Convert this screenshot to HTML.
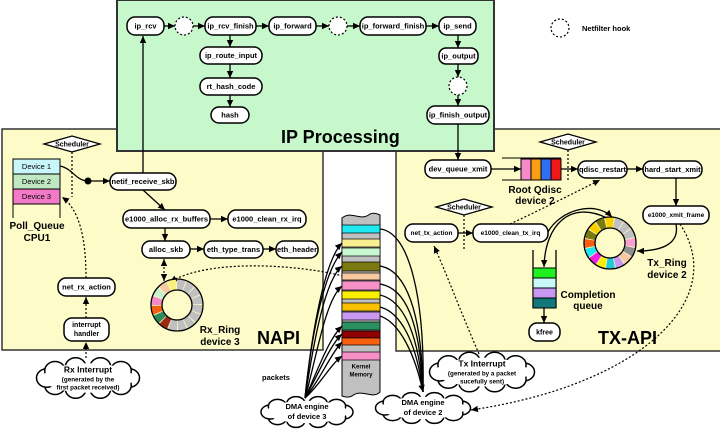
<!DOCTYPE html>
<html><head><meta charset="utf-8"><style>
html,body{margin:0;padding:0;background:#fff;}
svg{display:block;font-family:"Liberation Sans",sans-serif;}
.n{fill:#fff;stroke:#000;stroke-width:1.5;}
.t{font-size:7.5px;font-weight:bold;text-anchor:middle;dominant-baseline:middle;}
.l{stroke:#000;stroke-width:1.3;fill:none;}
.d{stroke:#000;stroke-width:1.2;fill:none;stroke-dasharray:2,2;}
.big{font-size:18px;font-weight:bold;}
.lab{font-size:10px;font-weight:bold;text-anchor:middle;}
.cb circle{fill:#fff;stroke:#000;stroke-width:1.5;vector-effect:non-scaling-stroke;}
</style></head><body>
<svg width="720" height="430" viewBox="0 0 720 430">
<defs>
<marker id="a" markerWidth="8" markerHeight="8" refX="7" refY="4" orient="auto" markerUnits="userSpaceOnUse"><path d="M0,0.8 L7,4 L0,7.2z" fill="#000"/></marker>
<marker id="s" markerWidth="8" markerHeight="8" refX="1" refY="4" orient="auto" markerUnits="userSpaceOnUse"><path d="M8,0.8 L1,4 L8,7.2z" fill="#000"/></marker>
<g id="cloud">
<g class="cb">
<circle cx="40" cy="0" r="10"/><circle cx="32" cy="8" r="10"/><circle cx="12" cy="12" r="10"/><circle cx="-12" cy="12" r="10"/><circle cx="-32" cy="8" r="10"/><circle cx="-40" cy="0" r="10"/><circle cx="-32" cy="-8" r="10"/><circle cx="-12" cy="-12" r="10"/><circle cx="12" cy="-12" r="10"/><circle cx="32" cy="-8" r="10"/>
</g>
<ellipse cx="0" cy="0" rx="44" ry="16" fill="#fff"/>
</g>
</defs>

<!-- panels -->
<rect x="2" y="129" width="321" height="221" fill="#fdfcc8" stroke="#333" stroke-width="1.5"/>
<rect x="396" y="129" width="326" height="222" fill="#fdfcc8" stroke="#333" stroke-width="1.5"/>
<rect x="117" y="0" width="377" height="151" fill="#c6f8cc" stroke="#333" stroke-width="2"/>
<text x="281" y="143" class="big">IP Processing</text>
<text x="257" y="344" class="big">NAPI</text>
<text x="598" y="344" class="big">TX-API</text>

<!-- legend -->
<circle cx="560" cy="28" r="9" fill="#fff" stroke="#000" stroke-width="1.2" stroke-dasharray="2,2"/>
<text x="582" y="31" style="font-size:7.5px;font-weight:bold">Netfilter hook</text>

<!-- IP processing nodes -->
<rect class="n" x="127" y="17" width="37" height="18" rx="8"/><text class="t" x="145.5" y="26.5">ip_rcv</text>
<circle cx="184" cy="26" r="9" fill="#fff" stroke="#000" stroke-width="1.2" stroke-dasharray="2,2"/>
<rect class="n" x="205" y="17" width="51" height="18" rx="8"/><text class="t" x="230.5" y="26.5">ip_rcv_finish</text>
<rect class="n" x="269" y="17" width="47" height="18" rx="8"/><text class="t" x="292.5" y="26.5">ip_forward</text>
<circle cx="338" cy="26" r="9" fill="#fff" stroke="#000" stroke-width="1.2" stroke-dasharray="2,2"/>
<rect class="n" x="360" y="17" width="66" height="18" rx="8"/><text class="t" x="393" y="26.5">ip_forward_finish</text>
<rect class="n" x="439" y="17" width="37" height="18" rx="8"/><text class="t" x="457.5" y="26.5">ip_send</text>
<rect class="n" x="439" y="48" width="39" height="16" rx="7"/><text class="t" x="458.5" y="56.5">ip_output</text>
<circle cx="458" cy="86" r="9" fill="#fff" stroke="#000" stroke-width="1.2" stroke-dasharray="2,2"/>
<rect class="n" x="427" y="106" width="62" height="18" rx="8"/><text class="t" x="458" y="115.5">ip_finish_output</text>
<rect class="n" x="200" y="47" width="62" height="17" rx="8"/><text class="t" x="231" y="56">ip_route_input</text>
<rect class="n" x="200" y="78" width="62" height="17" rx="8"/><text class="t" x="231" y="87">rt_hash_code</text>
<rect class="n" x="211" y="107" width="38" height="16" rx="8"/><text class="t" x="230" y="115.5">hash</text>

<g class="l" marker-end="url(#a)">
<line x1="164" y1="26" x2="175" y2="26"/><line x1="193" y1="26" x2="205" y2="26"/>
<line x1="256" y1="26" x2="269" y2="26"/><line x1="316" y1="26" x2="329" y2="26"/>
<line x1="347" y1="26" x2="360" y2="26"/><line x1="426" y1="26" x2="439" y2="26"/>
<line x1="458" y1="35" x2="458" y2="48"/><line x1="458" y1="64" x2="458" y2="77"/>
<line x1="458" y1="95" x2="458" y2="106"/><line x1="458" y1="124" x2="458" y2="160"/>
<line x1="230" y1="35" x2="230" y2="47"/><line x1="230" y1="64" x2="230" y2="78"/>
<line x1="230" y1="95" x2="230" y2="107"/>
<line x1="143" y1="173" x2="143" y2="36"/>
</g>

<!-- NAPI side -->
<polygon points="44,144 72,136 100,144 72,152" fill="#fff" stroke="#000" stroke-width="1.3"/>
<text class="t" x="72" y="144.5" style="font-size:7px">Scheduler</text>
<line class="d" x1="72" y1="152" x2="72" y2="197"/>
<rect x="13" y="159" width="47" height="15" fill="#c8f6fb" stroke="#000"/>
<rect x="13" y="174" width="47" height="15" fill="#bfe8c3" stroke="#000"/>
<rect x="13" y="189" width="47" height="15" fill="#f27ac6" stroke="#000"/>
<line x1="13" y1="204" x2="13" y2="218" stroke="#000"/><line x1="60" y1="204" x2="60" y2="218" stroke="#000"/>
<text class="t" x="36.5" y="167" style="font-weight:normal;font-size:7.5px">Device 1</text>
<text class="t" x="36.5" y="182" style="font-weight:normal;font-size:7.5px">Device 2</text>
<text class="t" x="36.5" y="197" style="font-weight:normal;font-size:7.5px">Device 3</text>
<text class="lab" x="37" y="229">Poll_Queue</text>
<text class="lab" x="37" y="241">CPU1</text>
<path class="l" d="M60,166 C72,168 76,181 88,181"/>
<circle cx="88" cy="181" r="3.5" fill="#000"/>
<line class="l" x1="88" y1="181" x2="110" y2="181" marker-end="url(#a)"/>
<rect class="n" x="110" y="173" width="66" height="17" rx="8"/><text class="t" x="143" y="182">netif_receive_skb</text>
<line class="l" x1="143" y1="190" x2="165" y2="210" marker-end="url(#a)"/>
<rect class="n" x="123" y="210" width="87" height="18" rx="8"/><text class="t" x="166.5" y="219.5">e1000_alloc_rx_buffers</text>
<rect class="n" x="228" y="210" width="78" height="18" rx="8"/><text class="t" x="267" y="219.5">e1000_clean_rx_irq</text>
<line class="l" x1="210" y1="219" x2="228" y2="219" marker-end="url(#a)"/>
<line class="l" x1="165" y1="228" x2="165" y2="241" marker-end="url(#a)"/>
<rect class="n" x="142" y="241" width="48" height="17" rx="8"/><text class="t" x="166" y="250">alloc_skb</text>
<rect class="n" x="204" y="241" width="59" height="17" rx="8"/><text class="t" x="233.5" y="250">eth_type_trans</text>
<rect class="n" x="276" y="241" width="42" height="17" rx="8"/><text class="t" x="297" y="250">eth_header</text>
<line class="l" x1="190" y1="249" x2="204" y2="249" marker-end="url(#a)"/>
<line class="l" x1="263" y1="249" x2="276" y2="249" marker-end="url(#a)"/>
<line class="d" x1="164" y1="259" x2="164" y2="281" marker-start="url(#s)" marker-end="url(#a)"/>
<path class="d" d="M343,276 C300,265 210,258 170,282" marker-end="url(#a)"/>

<!-- Rx ring -->
<g transform="translate(177,305)">
<g fill="none" stroke-width="10" stroke-dasharray="7.3 121.5">
<circle r="20.5" stroke="#f8f07c" transform="rotate(-112.5)"/>
<circle r="20.5" stroke="#c0c0c0" transform="rotate(-90)"/>
<circle r="20.5" stroke="#c0c0c0" transform="rotate(-67.5)"/>
<circle r="20.5" stroke="#c0c0c0" transform="rotate(-45)"/>
<circle r="20.5" stroke="#c0c0c0" transform="rotate(-22.5)"/>
<circle r="20.5" stroke="#c0c0c0" transform="rotate(0)"/>
<circle r="20.5" stroke="#c0c0c0" transform="rotate(22.5)"/>
<circle r="20.5" stroke="#c0c0c0" transform="rotate(45)"/>
<circle r="20.5" stroke="#c0c0c0" transform="rotate(67.5)"/>
<circle r="20.5" stroke="#c0c0c0" transform="rotate(90)"/>
<circle r="20.5" stroke="#9a2a10" transform="rotate(112.5)"/>
<circle r="20.5" stroke="#2a8a5a" transform="rotate(135)"/>
<circle r="20.5" stroke="#f06010" transform="rotate(157.5)"/>
<circle r="20.5" stroke="#f48ac8" transform="rotate(180)"/>
<circle r="20.5" stroke="#c8f4cc" transform="rotate(202.5)"/>
<circle r="20.5" stroke="#f8c8a0" transform="rotate(225)"/>
</g>
<circle r="26" fill="none" stroke="#000" stroke-width="1.3"/><circle r="15" fill="#fdfcc8" stroke="#000" stroke-width="1.3"/>
</g>
<text class="lab" x="220" y="333">Rx_Ring</text>
<text class="lab" x="220" y="345">device 3</text>

<path class="d" d="M86,278 C86,240 80,210 62,197" marker-end="url(#a)"/>
<rect class="n" x="58" y="278" width="57" height="18" rx="8"/><text class="t" x="86.5" y="287.5">net_rx_action</text>
<line class="d" x1="86" y1="318" x2="86" y2="297" marker-end="url(#a)"/>
<rect class="n" x="64" y="318" width="45" height="23" rx="8"/>
<text class="t" x="86.5" y="325" style="font-size:7px">interrupt</text><text class="t" x="86.5" y="334" style="font-size:7px">handler</text>
<line class="d" x1="86" y1="358" x2="86" y2="342" marker-end="url(#a)"/>

<!-- kernel memory -->
<path d="M342,218 C352,210 360,222 370,214 C374,212 378,214 380,215 L380,392 C372,400 362,388 352,396 C348,398 345,397 342,396 Z" fill="#c0c0c0" stroke="#000" stroke-width="1"/>
<g stroke="#000" stroke-width="0.7">
<rect x="342" y="225" width="38" height="8" fill="#20e8f0"/>
<rect x="342" y="239" width="38" height="8" fill="#f8f090"/>
<rect x="342" y="248" width="38" height="8" fill="#c8f8d0"/>
<rect x="342" y="262" width="38" height="9" fill="#7a7a10"/>
<rect x="342" y="273" width="38" height="7" fill="#f8c8a0"/>
<rect x="342" y="281" width="38" height="9" fill="#f890c8"/>
<rect x="342" y="291" width="38" height="8" fill="#f8f000"/>
<rect x="342" y="303" width="38" height="8" fill="#f8c000"/>
<rect x="342" y="312" width="38" height="8" fill="#c898f0"/>
<rect x="342" y="322" width="38" height="8" fill="#2a9060"/>
<rect x="342" y="331" width="38" height="7" fill="#900000"/>
<rect x="342" y="338" width="38" height="7" fill="#f86010"/>
<rect x="342" y="352" width="38" height="8" fill="#f890c8"/>
</g>
<text class="t" x="361" y="367" style="font-size:6px">Kernel</text>
<text class="t" x="361" y="375" style="font-size:6px">Memory</text>

<!-- DMA3 fan -->
<g class="l" marker-end="url(#a)">
<path d="M305,398 C312,330 325,260 342,243"/>
<path d="M305,398 C312,330 325,270 342,252"/>
<path d="M305,398 C314,340 325,280 342,266"/>
<path d="M305,398 C316,360 325,300 342,286"/>
<path d="M305,398 C318,370 328,340 342,326"/>
<path d="M305,398 C318,375 330,345 342,334"/>
<path d="M305,398 C320,380 330,355 342,342"/>
<path d="M305,398 C320,385 330,365 342,356"/>
</g>
<text x="262" y="380" style="font-size:7.5px;font-weight:bold">packets</text>
<!-- DMA2 curves -->
<g class="l">
<path d="M380,229 C410,232 425,300 423,392"/>
<path d="M380,266 C405,270 422,310 423,392"/>
<path d="M380,284 C405,288 420,320 423,392"/>
<path d="M380,295 C402,300 418,330 423,392"/>
<path d="M380,307 C400,312 416,340 423,392"/>
<path d="M380,316 C398,322 414,350 423,392" marker-end="url(#a)"/>
</g>

<!-- clouds -->
<use href="#cloud" transform="translate(88,378) scale(1.03,0.92)"/>
<text class="t" x="88" y="370" style="font-size:8.5px">Rx Interrupt</text>
<text class="t" x="88" y="380" style="font-size:6.3px">(generated by the</text>
<text class="t" x="88" y="388" style="font-size:6.3px">first packet received)</text>
<use href="#cloud" transform="translate(307,412) scale(0.92,0.7)"/>
<text class="t" x="307" y="407" style="font-size:7.5px">DMA engine</text>
<text class="t" x="307" y="417" style="font-size:7.5px">of device 3</text>
<use href="#cloud" transform="translate(423,408) scale(0.95,0.7)"/>
<text class="t" x="423" y="403" style="font-size:7.5px">DMA engine</text>
<text class="t" x="423" y="413" style="font-size:7.5px">of device 2</text>
<use href="#cloud" transform="translate(482,372) scale(1.05,0.9)"/>
<text class="t" x="482" y="364" style="font-size:8.5px">Tx Interrupt</text>
<text class="t" x="482" y="374" style="font-size:6.3px">(generated by a packet</text>
<text class="t" x="482" y="382" style="font-size:6.3px">sucefully sent)</text>

<!-- TX side -->
<rect class="n" x="425" y="160" width="66" height="18" rx="8"/><text class="t" x="458" y="169.5">dev_queue_xmit</text>
<line x1="502" y1="158" x2="561" y2="158" stroke="#000"/><line x1="502" y1="180" x2="561" y2="180" stroke="#000"/>
<g stroke="#000" stroke-width="1">
<rect x="521" y="159" width="10" height="21" fill="#f48ac8"/>
<rect x="531" y="159" width="10" height="21" fill="#f8a010"/>
<rect x="541" y="159" width="10" height="21" fill="#3070f0"/>
<rect x="551" y="159" width="10" height="21" fill="#f01818"/>
</g>
<line class="l" x1="491" y1="169" x2="521" y2="169" marker-end="url(#a)"/>
<text class="lab" x="535" y="193">Root Qdisc</text>
<text class="lab" x="535" y="204">device 2</text>
<polygon points="540,142 568,134 596,142 568,150" fill="#fff" stroke="#000" stroke-width="1.3"/>
<text class="t" x="568" y="142.5" style="font-size:7px">Scheduler</text>
<line class="d" x1="568" y1="150" x2="568" y2="182"/>
<line class="l" x1="561" y1="169" x2="578" y2="169" marker-end="url(#a)"/>
<rect class="n" x="578" y="161" width="49" height="17" rx="8"/><text class="t" x="602.5" y="170">qdisc_restart</text>
<line class="l" x1="627" y1="169" x2="643" y2="169" marker-end="url(#a)"/>
<rect class="n" x="643" y="161" width="59" height="17" rx="8"/><text class="t" x="672.5" y="170">hard_start_xmit</text>
<line class="l" x1="676" y1="178" x2="676" y2="206" marker-end="url(#a)"/>
<rect class="n" x="643" y="206" width="66" height="18" rx="8"/><text class="t" x="676" y="215.5" style="font-size:6.5px">e1000_xmit_frame</text>

<polygon points="436,207 464,199 492,207 464,215" fill="#fff" stroke="#000" stroke-width="1.3"/>
<text class="t" x="464" y="207.5" style="font-size:7px">Scheduler</text>
<line class="d" x1="464" y1="215" x2="464" y2="250"/>
<rect class="n" x="405" y="224" width="53" height="18" rx="8"/><text class="t" x="431.5" y="233.5" style="font-size:6.5px">net_tx_action</text>
<line class="l" x1="458" y1="233" x2="473" y2="233" marker-end="url(#a)"/>
<rect class="n" x="473" y="224" width="75" height="18" rx="8"/><text class="t" x="510.5" y="233.5" style="font-size:6.5px">e1000_clean_tx_irq</text>
<path class="d" d="M510,224 C540,210 570,195 600,180" marker-end="url(#a)"/>
<path class="l" d="M548,232 C560,210 595,200 612,217" marker-end="url(#a)"/>
<path class="l" d="M607,218 C570,200 545,225 544,267" marker-end="url(#a)"/>
<path class="l" d="M676,224 C680,245 660,251 637,251" marker-end="url(#a)"/>
<path class="d" d="M680,224 C730,300 640,385 471,410" marker-end="url(#a)"/>
<path class="d" d="M479,354 C460,310 445,270 434,246" marker-end="url(#a)"/>

<!-- Tx ring -->
<g transform="translate(610,243)">
<g fill="none" stroke-width="10" stroke-dasharray="7.3 121.5">
<circle r="20.5" stroke="#f8d000" transform="rotate(-101.25)"/>
<circle r="20.5" stroke="#c0c0c0" transform="rotate(-78.75)"/>
<circle r="20.5" stroke="#c0c0c0" transform="rotate(-56.25)"/>
<circle r="20.5" stroke="#c0c0c0" transform="rotate(-33.75)"/>
<circle r="20.5" stroke="#f8a0d0" transform="rotate(-11.25)"/>
<circle r="20.5" stroke="#909090" transform="rotate(11.25)"/>
<circle r="20.5" stroke="#f8c8a0" transform="rotate(33.75)"/>
<circle r="20.5" stroke="#c898f0" transform="rotate(56.25)"/>
<circle r="20.5" stroke="#20c8d8" transform="rotate(78.75)"/>
<circle r="20.5" stroke="#f8f000" transform="rotate(101.25)"/>
<circle r="20.5" stroke="#f020e0" transform="rotate(123.75)"/>
<circle r="20.5" stroke="#20e8f0" transform="rotate(146.25)"/>
<circle r="20.5" stroke="#f86010" transform="rotate(168.75)"/>
<circle r="20.5" stroke="#7a7a10" transform="rotate(191.25)"/>
<circle r="20.5" stroke="#f8d000" transform="rotate(213.75)"/>
<circle r="20.5" stroke="#7a7a10" transform="rotate(236.25)"/>
</g>
<circle r="26" fill="none" stroke="#000" stroke-width="1.3"/><circle r="15" fill="#fdfcc8" stroke="#000" stroke-width="1.3"/>
</g>
<text class="lab" x="667" y="266">Tx_Ring</text>
<text class="lab" x="667" y="278">device 2</text>

<line x1="533" y1="250" x2="533" y2="308" stroke="#000" stroke-width="1.3"/>
<line x1="556" y1="250" x2="556" y2="308" stroke="#000" stroke-width="1.3"/>
<g stroke="#000" stroke-width="1">
<rect x="533" y="268" width="23" height="10" fill="#20f020"/>
<rect x="533" y="278" width="23" height="10" fill="#c8f8f8"/>
<rect x="533" y="288" width="23" height="10" fill="#c898f0"/>
<rect x="533" y="298" width="23" height="10" fill="#107878"/>
</g>
<text class="lab" x="588" y="298">Completion</text>
<text class="lab" x="588" y="309">queue</text>
<line class="l" x1="544" y1="308" x2="544" y2="323" marker-end="url(#a)"/>
<rect class="n" x="529" y="323" width="31" height="18" rx="8"/><text class="t" x="544.5" y="332.5" style="font-size:7px">kfree</text>
</svg>
</body></html>
